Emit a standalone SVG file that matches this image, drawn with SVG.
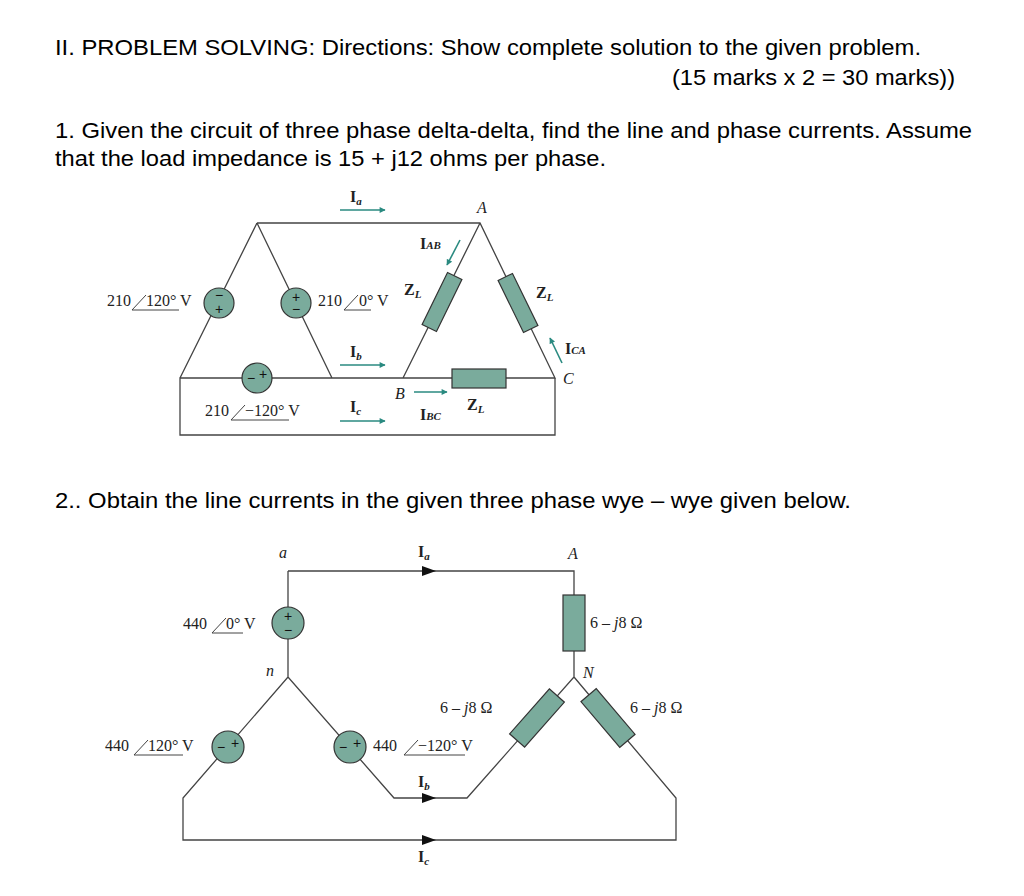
<svg xmlns="http://www.w3.org/2000/svg" width="1024" height="896" viewBox="0 0 1024 896">
<style>
.h{font-family:"Liberation Sans",Arial,sans-serif;font-size:21.5px;fill:#000}
.w{stroke:#444;stroke-width:1.3;fill:none}
.box{fill:#7aab9c;stroke:#333;stroke-width:1.2}
.src{fill:#7aab9c;stroke:#333;stroke-width:1.2}
.t{font-family:"Liberation Serif","Times New Roman",serif;font-size:16px;fill:#222}
.pm{font-family:"Liberation Sans",Arial,sans-serif;font-size:14px;fill:#111}
.b{font-weight:bold}
.i{font-style:italic}
.s{font-size:11px}
.cur{stroke:#2a8a80;stroke-width:1.6;fill:none}
.ul{stroke:#444;stroke-width:1}
</style>
<defs>
<marker id="ta" viewBox="0 0 10 10" refX="9" refY="5" markerWidth="7" markerHeight="6" orient="auto" markerUnits="userSpaceOnUse"><path d="M0,0L10,5L0,10z" fill="#2a8a80"/></marker>
</defs>
<rect width="1024" height="896" fill="#fff"/>
<g id="header">
<text class="h" x="55" y="55" textLength="866" lengthAdjust="spacingAndGlyphs">II. PROBLEM SOLVING: Directions: Show complete solution to the given problem.</text>
<text class="h" x="672" y="85" textLength="283" lengthAdjust="spacingAndGlyphs">(15 marks x 2 = 30 marks))</text>
<text class="h" x="55" y="138" textLength="917" lengthAdjust="spacingAndGlyphs">1. Given the circuit of three phase delta-delta, find the line and phase currents. Assume</text>
<text class="h" x="55" y="166" textLength="551" lengthAdjust="spacingAndGlyphs">that the load impedance is 15 + j12 ohms per phase.</text>
<text class="h" x="55" y="508" textLength="796" lengthAdjust="spacingAndGlyphs">2.. Obtain the line currents in the given three phase wye – wye given below.</text>
</g>
<g id="connectors">
<path class="w" d="M257,223H480L555,378H180V435H555V378M257,223L180,378M257,223L332,378M480,223L403,378M180,378H555"/>
<path class="w" d="M288,571H574V677L467,798H394L288,677L183,798V840H676V798L574,677M288,571V677"/>
<path class="cur" d="M340,210H385" marker-end="url(#ta)"/>
<path class="cur" d="M340,365H385" marker-end="url(#ta)"/>
<path class="cur" d="M340,421H385" marker-end="url(#ta)"/>
<path class="cur" d="M414,392H447" marker-end="url(#ta)"/>
<path class="cur" d="M460,240L447,265" marker-end="url(#ta)"/>
<path class="cur" d="M562,363L550,338" marker-end="url(#ta)"/>
<path d="M422,566L436,571L422,576z" fill="#111"/>
<path d="M422,793L436,798L422,803z" fill="#111"/>
<path d="M422,835L436,840L422,845z" fill="#111"/>
</g>
<g id="delta-sources">
<circle class="src" cx="219" cy="303" r="15"/><text class="pm" x="219" y="300" text-anchor="middle">−</text><text class="pm" x="219" y="314" text-anchor="middle">+</text>
<circle class="src" cx="296" cy="303" r="15"/><text class="pm" x="296" y="302" text-anchor="middle">+</text><text class="pm" x="296" y="314" text-anchor="middle">−</text>
<circle class="src" cx="257" cy="378" r="15"/><text class="pm" x="251" y="383" text-anchor="middle">−</text><text class="pm" x="263" y="379" text-anchor="middle">+</text>
</g>
<g id="delta-loads">
<rect class="box" x="-29" y="-8" width="58" height="16" transform="translate(442,302) rotate(116)"/>
<rect class="box" x="-29" y="-8" width="58" height="16" transform="translate(518,303) rotate(64)"/>
<rect class="box" x="452" y="369" width="54" height="19"/>
</g>
<g id="delta-labels">
<text class="t b" x="350" y="202">I<tspan class="s i" dy="3">a</tspan></text>
<text class="t i" x="477" y="213">A</text>
<text class="t b" x="420" y="249">I<tspan class="s i">AB</tspan></text>
<text class="t b" x="404" y="295">Z<tspan class="s i" dy="3">L</tspan></text>
<text class="t b" x="536" y="298">Z<tspan class="s i" dy="3">L</tspan></text>
<text class="t b" x="565" y="354">I<tspan class="s i">CA</tspan></text>
<text class="t i" x="563" y="384">C</text>
<text class="t i" x="395" y="399">B</text>
<text class="t b" x="420" y="420">I<tspan class="s i">BC</tspan></text>
<text class="t b" x="467" y="410">Z<tspan class="s i" dy="3">L</tspan></text>
<text class="t b" x="350" y="357">I<tspan class="s i" dy="3">b</tspan></text>
<text class="t b" x="350" y="412">I<tspan class="s i" dy="3">c</tspan></text>
<text class="t" x="107" y="306">210</text><text class="t" x="146" y="306">120° V</text><path class="ul" d="M132,310L146,295M132,310H179"/>
<text class="t" x="318" y="306">210</text><text class="t" x="359" y="306">0° V</text><path class="ul" d="M344,310L358,295M344,310H371"/>
<text class="t" x="205" y="416">210</text><text class="t" x="245" y="416">−120° V</text><path class="ul" d="M231,420L245,405M231,420H289"/>
</g>
<g id="wye-sources">
<circle class="src" cx="288" cy="623" r="16"/><text class="pm" x="288" y="621" text-anchor="middle">+</text><text class="pm" x="288" y="635" text-anchor="middle">−</text>
<circle class="src" cx="228" cy="747" r="16"/><text class="pm" x="221" y="752" text-anchor="middle">−</text><text class="pm" x="235" y="748" text-anchor="middle">+</text>
<circle class="src" cx="350" cy="747" r="16"/><text class="pm" x="343" y="752" text-anchor="middle">−</text><text class="pm" x="357" y="748" text-anchor="middle">+</text>
</g>
<g id="wye-loads">
<rect class="box" x="563" y="595" width="22" height="56"/>
<rect class="box" x="-30" y="-10" width="60" height="20" transform="translate(537,718) rotate(-48.5)"/>
<rect class="box" x="-30" y="-10" width="60" height="20" transform="translate(608,718) rotate(49.7)"/>
</g>
<g id="wye-labels">
<text class="t i" x="279" y="558">a</text>
<text class="t b" x="418" y="557">I<tspan class="s i" dy="3">a</tspan></text>
<text class="t i" x="568" y="559">A</text>
<text class="t i" x="266" y="676">n</text>
<text class="t i" x="583" y="678">N</text>
<text class="t" x="590" y="628">6 – <tspan class="i">j</tspan>8 Ω</text>
<text class="t" x="440" y="713">6 – <tspan class="i">j</tspan>8 Ω</text>
<text class="t" x="630" y="713">6 – <tspan class="i">j</tspan>8 Ω</text>
<text class="t b" x="418" y="787">I<tspan class="s i" dy="3">b</tspan></text>
<text class="t b" x="418" y="862">I<tspan class="s i" dy="3">c</tspan></text>
<text class="t" x="183" y="629">440</text><text class="t" x="226" y="629">0° V</text><path class="ul" d="M212,633L226,618M212,633H243"/>
<text class="t" x="105" y="751">440</text><text class="t" x="148" y="751">120° V</text><path class="ul" d="M134,755L148,740M134,755H183"/>
<text class="t" x="373" y="751">440</text><text class="t" x="418" y="751">−120° V</text><path class="ul" d="M404,755L418,740M404,755H465"/>
</g>
</svg>
